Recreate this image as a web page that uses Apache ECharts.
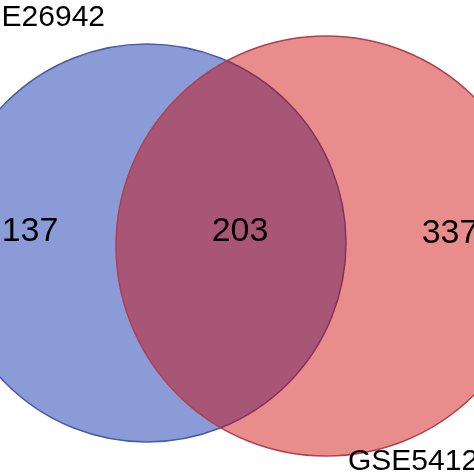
<!DOCTYPE html>
<html><head><meta charset="utf-8">
<script src="https://cdn.jsdelivr.net/npm/echarts@6/dist/echarts.min.js"></script>
<style>html,body{margin:0;padding:0;background:#fff}#c{width:474px;height:474px}</style>
</head><body><div id="c"></div>
<script>
const setNames = ["GSE26942", "GSE54129"];
const regionCounts = [137, 203, 337];
// layout (pixel space of the 474x474 view)
const circles = [
  {cx: 147, cy: 243, r: 199, fill: 'rgba(23,55,175,0.5)', stroke: '#4a5aa8'},
  {cx: 326, cy: 246, r: 210, fill: 'rgba(204,0,0,0.45)', stroke: '#b04050'}
];
const countPos = [[30, 232], [240, 232], [450, 234]];
const namePos = [[105, 18, 'right'], [348, 462, 'left']];
const chart = echarts.init(document.getElementById('c'));
chart.setOption({
  animation: false,
  grid: {left: 0, right: 0, top: 0, bottom: 0},
  xAxis: {type: 'value', min: 0, max: 474, show: false},
  yAxis: {type: 'value', min: 0, max: 474, inverse: true, show: false},
  series: [{
    type: 'custom',
    data: circles.map((c, i) => [c.cx, c.cy, c.r, i]),
    renderItem: (params, api) => {
      const c = circles[params.dataIndex];
      const p = api.coord([c.cx, c.cy]);
      const e = api.coord([c.cx + c.r, c.cy]);
      return {type: 'circle', shape: {cx: p[0], cy: p[1], r: e[0] - p[0]},
        style: {fill: c.fill, stroke: c.stroke, lineWidth: 1.5}};
    }
  }, {
    type: 'custom',
    data: regionCounts.map((v, i) => [countPos[i][0], countPos[i][1], v]),
    renderItem: (params, api) => {
      const p = api.coord([api.value(0), api.value(1)]);
      return {type: 'text', x: p[0], y: p[1], style: {text: String(api.value(2)),
        fill: '#000', font: '34px "Liberation Sans", Arial, sans-serif', align: 'center', verticalAlign: 'middle'}};
    }
  }, {
    type: 'custom',
    data: setNames.map((n, i) => [namePos[i][0], namePos[i][1], i]),
    renderItem: (params, api) => {
      const i = params.dataIndex;
      const p = api.coord([namePos[i][0], namePos[i][1]]);
      return {type: 'text', x: p[0], y: p[1], style: {text: setNames[i],
        fill: '#000', font: '30px "Liberation Sans", Arial, sans-serif', align: namePos[i][2], verticalAlign: 'middle'}};
    }
  }]
});
</script></body></html>
